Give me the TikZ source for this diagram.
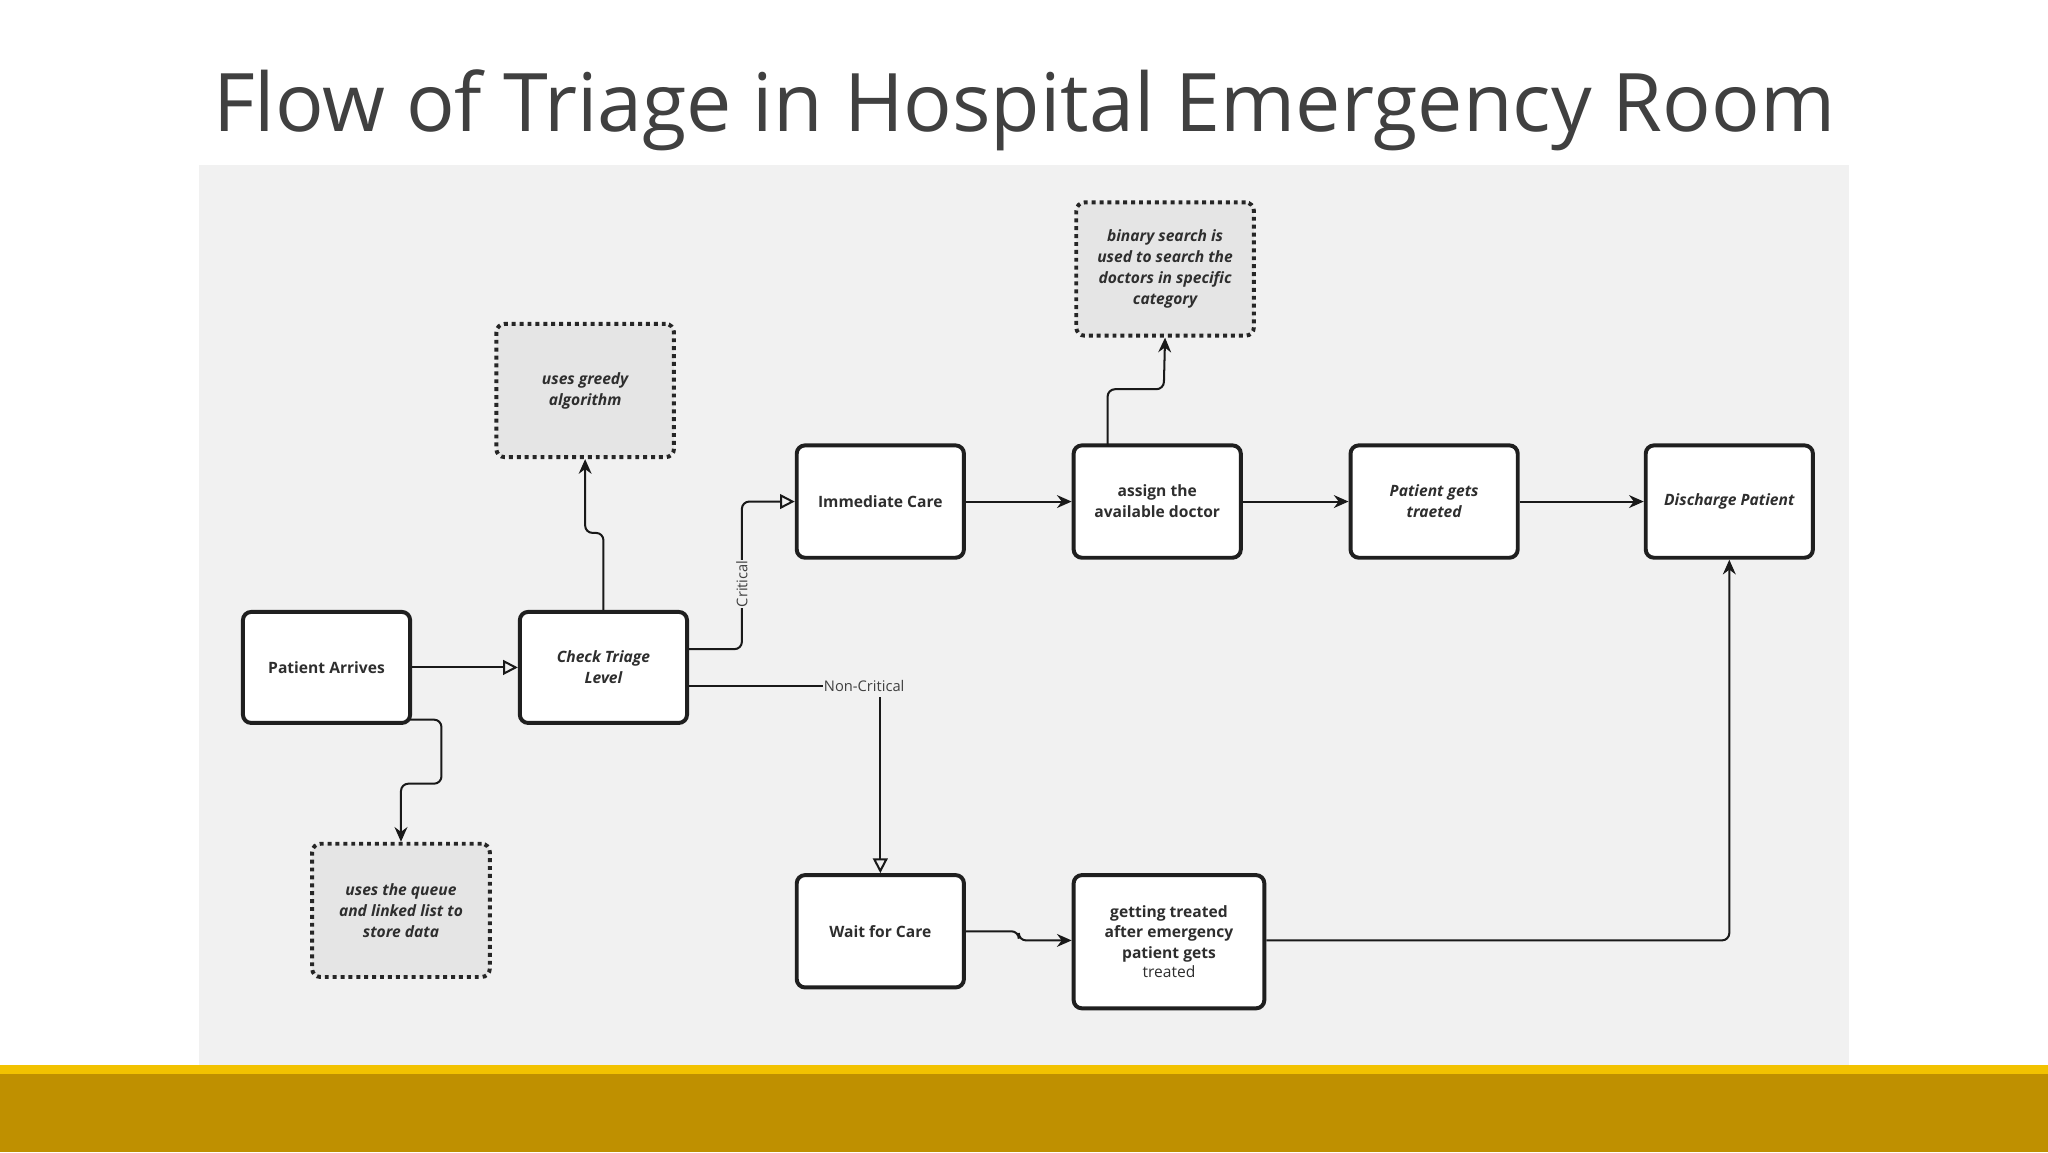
\documentclass[tikz,border=0pt]{standalone}
\usepackage{fontspec}
\setmainfont{Open Sans}
\usetikzlibrary{arrows.meta}
\definecolor{panel}{HTML}{F1F1F1}
\definecolor{notefill}{HTML}{E5E5E5}
\definecolor{goldbar}{HTML}{BF9000}
\definecolor{goldline}{HTML}{F2C200}
\definecolor{titlegray}{HTML}{404040}
\definecolor{txt}{HTML}{2E2E2E}
\tikzset{
  box/.style={draw=black!88, line width=4.3pt, rounded corners=9pt, fill=white, align=center, text=txt,
     font=\fontsize{17}{23}\selectfont\bfseries},
  note/.style={draw=black!85, line width=4.3pt, dash pattern=on 4.3pt off 4.3pt, rounded corners=9pt, fill=notefill, align=center, text=txt,
     font=\fontsize{17}{23}\selectfont\bfseries\itshape},
  conn/.style={draw=black!90, line width=2.2pt, rounded corners=8pt},
  fa/.style={conn, -{Stealth[length=16pt,width=14pt]}},
  oa/.style={conn, -{Triangle[open,length=16pt,width=16pt,line width=2.2pt]}},
  lbl/.style={fill=panel, text=black!75, font=\fontsize{16}{18}\selectfont, inner sep=1pt}
}
\begin{document}
\begin{tikzpicture}[x=0.5mm,y=-0.5mm]
\useasboundingbox (0,0) rectangle (1568,882);
\fill[white] (0,0) rectangle (1568,882);
\fill[panel] (152,126) rectangle (1416,816);
\fill[goldline] (0,815) rectangle (1568,823);
\fill[goldbar] (0,822) rectangle (1568,882);
\node[anchor=base west, text=titlegray, font=\fontsize{88}{90}\selectfont, inner sep=0] (title) at (163,101) {Flow of Triage in Hospital Emergency Room};

\node[box, minimum width=128*0.5mm, minimum height=85*0.5mm] (pa) at (250,511) {Patient Arrives};
\node[box, minimum width=128*0.5mm, minimum height=85*0.5mm, font=\fontsize{17}{23}\selectfont\bfseries\itshape] (ct) at (462,511) {Check Triage\\Level};
\node[box, minimum width=128*0.5mm, minimum height=86*0.5mm] (ic) at (674,384) {Immediate Care};
\node[box, minimum width=128*0.5mm, minimum height=86*0.5mm] (ad) at (886,384) {assign the\\available doctor};
\node[box, minimum width=128*0.5mm, minimum height=86*0.5mm, font=\fontsize{17}{23}\selectfont\bfseries\itshape] (pt) at (1098,384) {Patient gets\\traeted};
\node[box, minimum width=128*0.5mm, minimum height=86*0.5mm, font=\fontsize{17}{23}\selectfont\bfseries\itshape] (dp) at (1324,384) {Discharge Patient};
\node[box, minimum width=128*0.5mm, minimum height=86*0.5mm] (wc) at (674,713) {Wait for Care};
\node[box, minimum width=146*0.5mm, minimum height=102*0.5mm, font=\fontsize{17}{22}\selectfont\bfseries] (gt) at (895,721) {getting treated\\after emergency\\patient gets\\[-1pt]{\mdseries treated}};

\node[note, minimum width=136*0.5mm, minimum height=102*0.5mm] (n1) at (448,299) {uses greedy\\algorithm};
\node[note, minimum width=136*0.5mm, minimum height=102*0.5mm] (n2) at (892,206) {binary search is\\used to search the\\doctors in specific\\category};
\node[note, minimum width=136*0.5mm, minimum height=102*0.5mm] (n3) at (307,697) {uses the queue\\and linked list to\\store data};

\draw[oa] (pa.east) -- (ct.west);
\draw[oa] (ct.east |- 0,497) -| (568,384) -- (ic.west);
\node[lbl, rotate=90] (crit) at (568,447) {Critical};
\draw[conn] (ct.east |- 0,525) -- (630,525);
\node[lbl, anchor=west] (nc) at (630,525) {Non-Critical};
\draw[oa] (674,534) -- (wc.north);
\draw[fa] (ct.north) -- (462,408) -- (448,408) -- (n1.south);
\draw[fa] (314,551) -| (338,600) -| (n3.north);
\draw[fa] (ic.east) -- (ad.west);
\draw[fa] (848,341) |- (891,298) -- (n2.south);
\draw[fa] (ad.east) -- (pt.west);
\draw[fa] (pt.east) -- (dp.west);
\draw[fa] (wc.east) -| (780,720) -- (gt.west |- 0,720);
\draw[fa] (gt.east |- 0,720) -| (dp.south);
\end{tikzpicture}
\end{document}
